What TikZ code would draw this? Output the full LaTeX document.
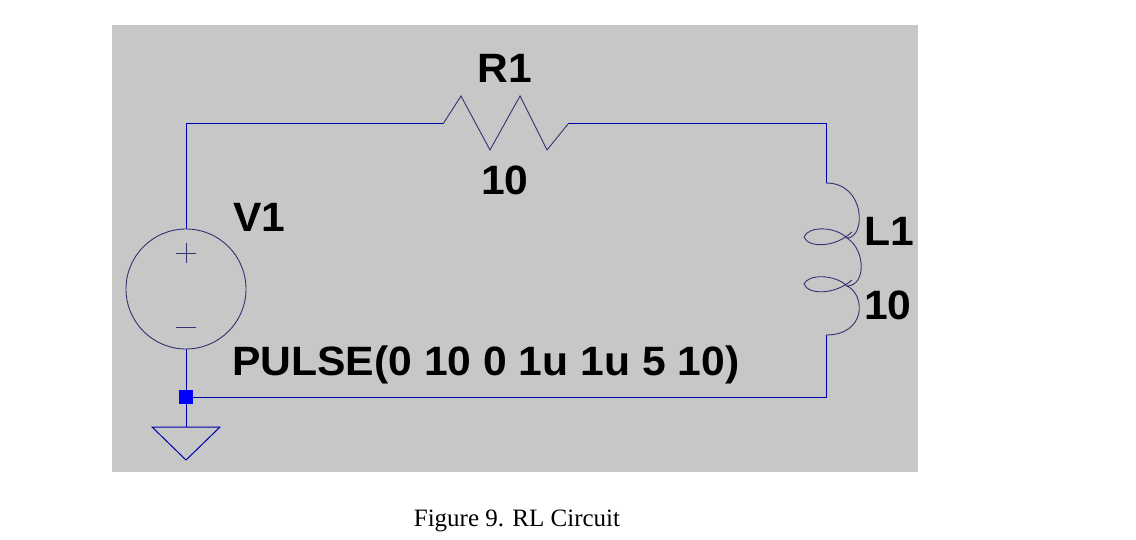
\documentclass[tikz,border=0pt]{standalone}
\usepackage{fontspec}
\setmainfont{Liberation Sans}
\newfontfamily\capfont{Liberation Serif}
\begin{document}
\begin{tikzpicture}[x=1pt,y=-1pt,
  wire/.style={draw=blue!70!black,line width=1pt},
  sym/.style={draw=blue!30!black!80,line width=0.9pt},
  lab/.style={font=\fontsize{41}{41}\selectfont\bfseries,text=black,inner sep=0pt,xscale=1.04}]
\useasboundingbox (0,0) rectangle (1136,540);
\fill[white] (0,0) rectangle (1136,540);
\fill[black!22] (112,25) rectangle (918,472);
% nodes
\coordinate (tl) at (186,124);
\coordinate (rl) at (443,124);
\coordinate (rr) at (568,124);
\coordinate (tr) at (826,124);
\coordinate (lt) at (826,183);
\coordinate (lb) at (826,335);
\coordinate (br) at (826,397);
\coordinate (gnd) at (186,397);
\coordinate (vt) at (186,229);
\coordinate (vb) at (186,349);
\coordinate (gt) at (186,427);
% wires
\draw[wire] (vt) -- (tl) -- (rl);
\draw[wire] (rr) -- (tr) -- (lt);
\draw[wire] (lb) -- (br) -- (gnd) -- (vb);
\draw[wire] (gnd) -- (gt);
% resistor
\draw[sym] (rl) -- (461,96) -- (490,150) -- (520,96) -- (547,150) -- (rr);
% source
\draw[sym] (186,289) circle (60);
\draw[sym] (176,253) -- (196,253) (186,243) -- (186,263) (176,327) -- (196,327);
% ground
\draw[wire] (152,427) -- (220,427) -- (186,460) -- cycle;
\node[fill=blue,minimum size=14pt,inner sep=0pt] (junc) at (gnd) {};
% inductor
\draw[sym] (lt) .. controls (866,183) and (866,238) .. (847,238)
  .. controls (866,250) and (866,286) .. (847,286)
  .. controls (866,295) and (866,335) .. (lb);
\draw[sym] (847,238) .. controls (835,226) and (808,226) .. (804,237) .. controls (808,248) and (835,248) .. (852,232);
\draw[sym] (847,286) .. controls (835,274) and (808,274) .. (804,284) .. controls (808,295) and (835,295) .. (852,280);
% labels
\node[lab] (r1) at (505,68) {R1};
\node[lab] (r1v) at (505,180) {10};
\node[lab,anchor=west] (v1) at (233,217) {V1};
\node[lab,anchor=west] (l1) at (864,231) {L1};
\node[lab,anchor=west] (l1v) at (864,305) {10};
\node[lab,anchor=west] (pulse) at (232,365) {PULSE(0 10 0 1u 1u 5 10)};
\node[font=\capfont\fontsize{25}{25}\selectfont] (cap) at (517,521) {Figure 9. RL Circuit};
\end{tikzpicture}
\end{document}
